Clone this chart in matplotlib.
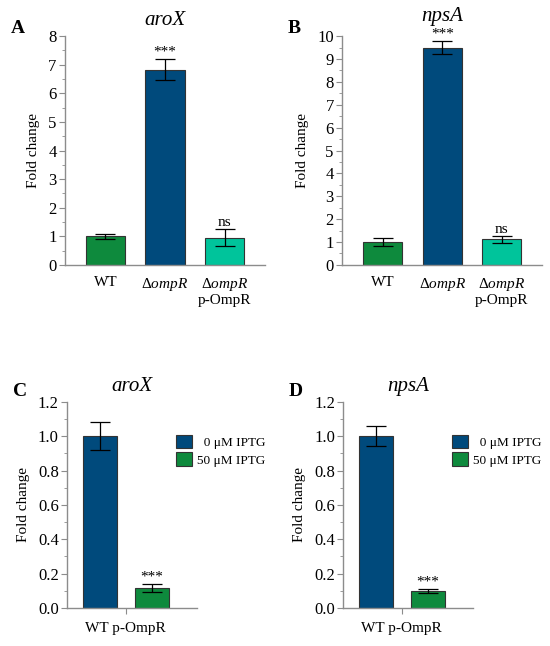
import matplotlib
matplotlib.use("Agg")
import matplotlib.pyplot as plt
from matplotlib.ticker import MultipleLocator
from matplotlib.patches import Patch

plt.rcParams['font.family'] = ['Liberation Serif', 'DejaVu Serif']
plt.rcParams['mathtext.fontset'] = 'custom'
plt.rcParams['mathtext.rm'] = 'Liberation Serif'
plt.rcParams['mathtext.it'] = 'Liberation Serif:italic'

# top panels: strains
strains = ['WT', r'$\Delta\mathit{ompR}$', '$\\Delta\\mathit{ompR}$\np-OmpR']
aroX_mean = [1.0, 6.83, 0.95]
aroX_err = [0.08, 0.37, 0.30]
aroX_sig = ['', '***', 'ns']
npsA_mean = [1.0, 9.5, 1.12]
npsA_err = [0.17, 0.30, 0.15]
npsA_sig = ['', '***', 'ns']

# bottom panels: IPTG induction
iptg_labels = ['  0 μM IPTG', '50 μM IPTG']
aroX_iptg_mean = [1.0, 0.115]
aroX_iptg_err = [0.08, 0.025]
npsA_iptg_mean = [1.0, 0.10]
npsA_iptg_err = [0.06, 0.012]
iptg_sig = ['', '***']

green = '#0e8a3d'
blue = '#004a7c'
teal = '#00c49b'
axcol = '#8c8c8c'


def style_axis(ax):
    for s in ['top', 'right']:
        ax.spines[s].set_visible(False)
    for s in ['left', 'bottom']:
        ax.spines[s].set_color(axcol)
        ax.spines[s].set_linewidth(1.0)
    ax.tick_params(axis='y', which='major', length=4, color=axcol, labelsize=12, pad=2)
    ax.tick_params(axis='y', which='minor', length=2.5, color=axcol)
    ax.tick_params(axis='x', labelsize=11, color=axcol)


def strain_panel(ax, mean, err, sig, ymax, title, letter, tpad):
    x = range(len(mean))
    ax.bar(x, mean, width=0.66, color=[green, blue, teal], edgecolor='#333333', linewidth=0.8,
           yerr=err, capsize=7, error_kw=dict(ecolor='black', elinewidth=0.9, capthick=0.9))
    for i in x:
        if sig[i]:
            ax.text(i, mean[i] + err[i], sig[i], ha='center', va='bottom', fontsize=11)
    ax.set_xlim(-0.68, 2.68)
    ax.set_ylim(0, ymax)
    ax.yaxis.set_major_locator(MultipleLocator(1))
    ax.yaxis.set_minor_locator(MultipleLocator(0.5))
    ax.set_xticks(list(x))
    ax.set_xticklabels(strains, linespacing=1.1)
    ax.tick_params(axis='x', length=0, pad=8)
    ax.set_ylabel('Fold change', fontsize=11, labelpad=6)
    style_axis(ax)
    ax.set_title(title, fontsize=15, fontstyle='italic', pad=tpad)
    ax.text(-0.27, 1.07, letter, transform=ax.transAxes, fontsize=14, fontweight='bold', va='top')


def iptg_panel(ax, mean, err, title, letter):
    x = range(len(mean))
    ax.bar(x, mean, width=0.65, color=[blue, green], edgecolor='#333333', linewidth=0.8,
           yerr=err, capsize=7, error_kw=dict(ecolor='black', elinewidth=0.9, capthick=0.9))
    for i in x:
        if iptg_sig[i]:
            ax.text(i, mean[i] + err[i] + 0.003, iptg_sig[i], ha='center', va='bottom', fontsize=11)
    ax.set_xlim(-0.63, 1.87)
    ax.set_ylim(0, 1.2)
    ax.yaxis.set_major_locator(MultipleLocator(0.2))
    ax.yaxis.set_minor_locator(MultipleLocator(0.1))
    ax.yaxis.set_major_formatter(plt.FormatStrFormatter('%.1f'))
    ax.set_xticks([0.5])
    ax.set_xticklabels(['WT p-OmpR'])
    ax.tick_params(axis='x', length=4, pad=6)
    ax.set_ylabel('Fold change', fontsize=11, labelpad=6)
    style_axis(ax)
    ax.set_title(title, fontsize=15, fontstyle='italic', pad=8)
    ax.text(-0.42, 1.09, letter, transform=ax.transAxes, fontsize=14, fontweight='bold', va='top')
    handles = [Patch(facecolor=blue, edgecolor='#333333', linewidth=0.8),
               Patch(facecolor=green, edgecolor='#333333', linewidth=0.8)]
    ax.legend(handles, iptg_labels, loc='upper left', bbox_to_anchor=(0.84, 0.84), frameon=False,
              fontsize=9.5, handlelength=1.2, handleheight=1.2, handletextpad=0.4, labelspacing=0.25,
              borderaxespad=0, borderpad=0)


fig = plt.figure(figsize=(5.5, 6.46), dpi=100)
axA = fig.add_axes([0.118, 0.590, 0.364, 0.354])
axB = fig.add_axes([0.622, 0.590, 0.364, 0.354])
axC = fig.add_axes([0.122, 0.059, 0.236, 0.319])
axD = fig.add_axes([0.624, 0.059, 0.236, 0.319])

strain_panel(axA, aroX_mean, aroX_err, aroX_sig, 8, 'aroX', 'A', 8)
strain_panel(axB, npsA_mean, npsA_err, npsA_sig, 10, 'npsA', 'B', 11)
iptg_panel(axC, aroX_iptg_mean, aroX_iptg_err, 'aroX', 'C')
iptg_panel(axD, npsA_iptg_mean, npsA_iptg_err, 'npsA', 'D')

fig.savefig('out.png', dpi=100)
